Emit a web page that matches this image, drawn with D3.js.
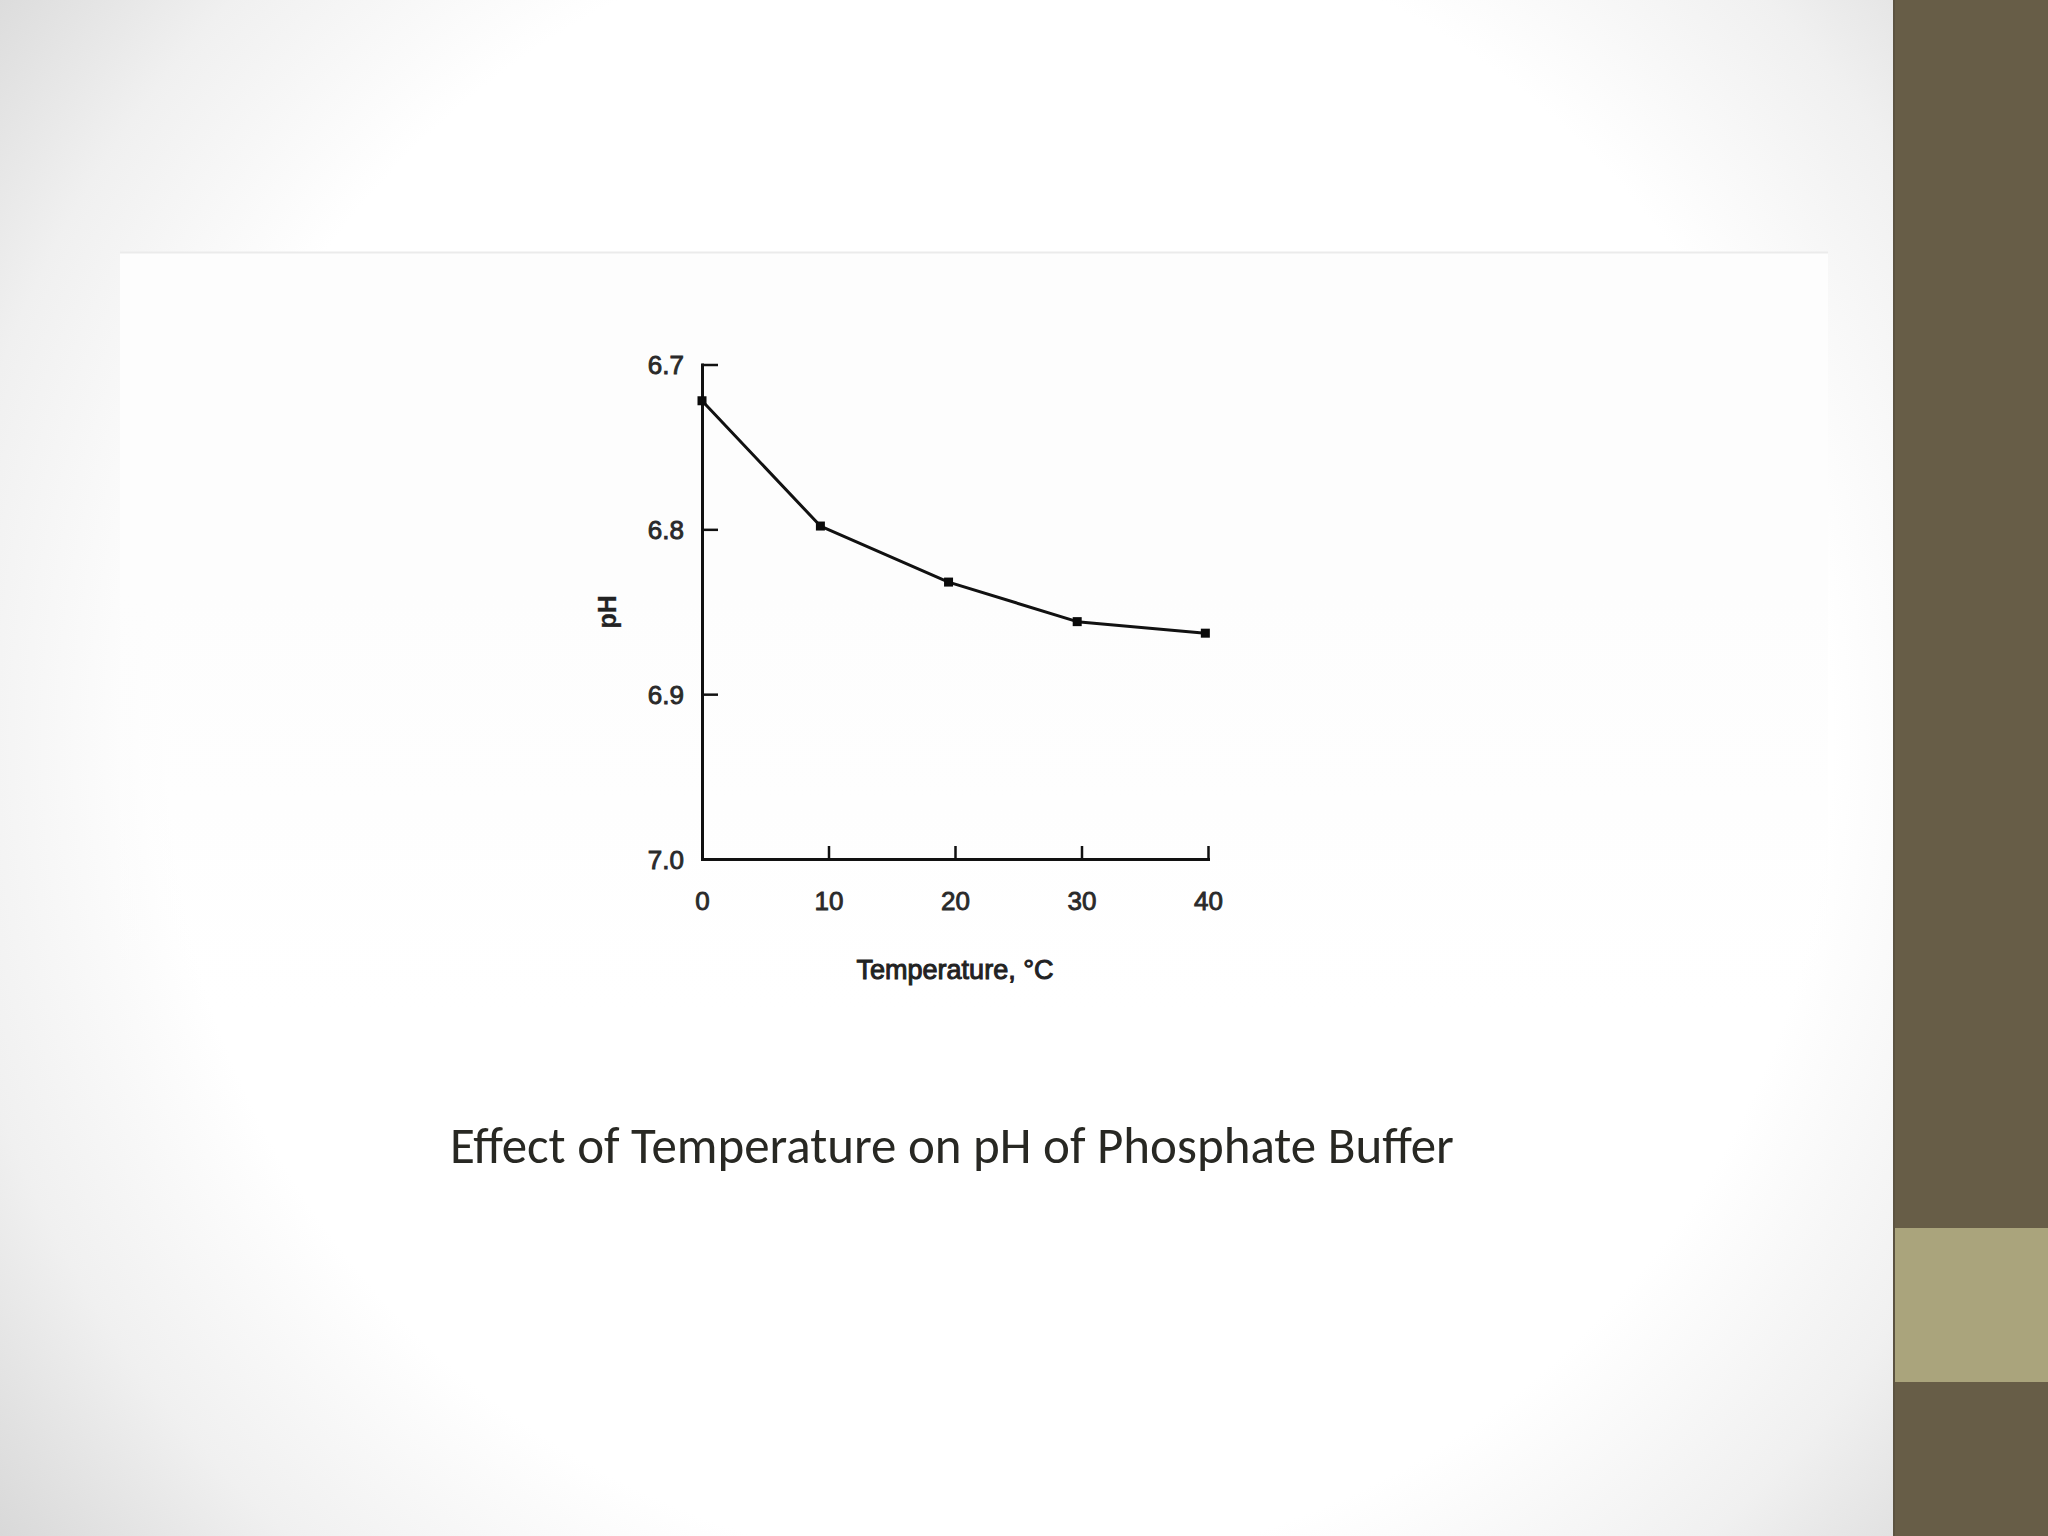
<!DOCTYPE html>
<html>
<head>
<meta charset="utf-8">
<script src="https://cdn.jsdelivr.net/npm/d3@7"></script>
<style>
  html, body { margin: 0; padding: 0; background: #ffffff; }
  svg { display: block; }
</style>
</head>
<body>
<svg id="chart" width="2048" height="1536"></svg>
<script>
// ---- data ----
const temperatures = [0, 9.36, 19.49, 29.66, 39.79];      // °C (marker positions)
const phValues     = [6.722, 6.798, 6.832, 6.856, 6.863];  // pH
const xTickValues  = [0, 10, 20, 30, 40];
const yTickValues  = [6.7, 6.8, 6.9, 7.0];
const xTitle = "Temperature, \u00B0C";
const yTitle = "pH";
const caption = "Effect of Temperature on pH of Phosphate Buffer";

const svg = d3.select("#chart");
const defs = svg.append("defs");

// slide background (radial vignette)
const rg = defs.append("radialGradient")
  .attr("id", "bg").attr("gradientUnits", "userSpaceOnUse")
  .attr("cx", 1000).attr("cy", 740).attr("r", 1300);
rg.append("stop").attr("offset", 0).attr("stop-color", "#ffffff");
rg.append("stop").attr("offset", 0.64).attr("stop-color", "#ffffff");
rg.append("stop").attr("offset", 0.82).attr("stop-color", "#f0f0f0");
rg.append("stop").attr("offset", 1).attr("stop-color", "#d6d6d6");
svg.append("rect").attr("x", 0).attr("y", 0).attr("width", 2048).attr("height", 1536)
  .attr("fill", "url(#bg)");

// right decorative band
svg.append("rect").attr("x", 1894).attr("y", 0).attr("width", 154).attr("height", 1536).attr("fill", "#675d47");
svg.append("rect").attr("x", 1894).attr("y", 1228).attr("width", 154).attr("height", 154).attr("fill", "#aaa47c");
svg.append("rect").attr("x", 1893).attr("y", 0).attr("width", 2).attr("height", 1536).attr("fill", "#5c5341");

// pasted picture frame (fades into the slide toward the bottom)
const pg = defs.append("linearGradient").attr("id", "pic").attr("x1", 0).attr("y1", 0).attr("x2", 0).attr("y2", 1);
pg.append("stop").attr("offset", 0).attr("stop-color", "#fdfdfd").attr("stop-opacity", 1);
pg.append("stop").attr("offset", 0.45).attr("stop-color", "#fdfdfd").attr("stop-opacity", 1);
pg.append("stop").attr("offset", 1).attr("stop-color", "#fdfdfd").attr("stop-opacity", 0);
svg.append("rect").attr("x", 120).attr("y", 252).attr("width", 1708).attr("height", 760)
  .attr("fill", "url(#pic)");
svg.append("line").attr("x1", 120).attr("x2", 1828).attr("y1", 252.5).attr("y2", 252.5)
  .attr("stroke", "#ebebeb").attr("stroke-width", 2);

// ---- chart ----
const x = d3.scaleLinear().domain([0, 40]).range([702, 1208]);
const y = d3.scaleLinear().domain([6.7, 7.0]).range([364.5, 859]);

const txtColor = "#1e1e1e";
const fontFam = "'Liberation Sans', Arial, Helvetica, sans-serif";

const yAxis = d3.axisLeft(y).tickValues(yTickValues).tickFormat(d3.format(".1f"))
  .tickSizeInner(-16).tickSizeOuter(0).tickPadding(18);
const gy = svg.append("g").attr("transform", `translate(${x(0)},0)`).call(yAxis);

const xAxis = d3.axisBottom(x).tickValues(xTickValues).tickFormat(d3.format("d"))
  .tickSizeInner(-13).tickSizeOuter(0).tickPadding(33);
const gx = svg.append("g").attr("transform", `translate(0,${y(7.0)})`).call(xAxis);

[gx, gy].forEach(g => {
  g.select(".domain").attr("stroke", "#111").attr("stroke-width", 3).attr("stroke-linecap", "square");
  g.selectAll(".tick line").attr("stroke", "#111").attr("stroke-width", 2.5);
  g.selectAll(".tick text").attr("fill", "#2a2a2a").attr("font-family", fontFam)
    .attr("font-size", 26).attr("stroke", "#2a2a2a").attr("stroke-width", 0.9);
});
gy.selectAll(".tick text").attr("dy", "0.36em");

// axis titles
svg.append("text").attr("x", x(20)).attr("y", 979)
  .attr("text-anchor", "middle").attr("font-family", fontFam).attr("font-size", 27)
  .attr("fill", "#222").attr("stroke", "#222").attr("stroke-width", 1)
  .attr("textLength", 197).attr("lengthAdjust", "spacingAndGlyphs")
  .text(xTitle);
svg.append("text").attr("transform", `translate(616,${(y(6.7) + y(7.0)) / 2}) rotate(-90)`)
  .attr("text-anchor", "middle").attr("font-family", fontFam).attr("font-size", 25)
  .attr("font-weight", "bold")
  .attr("fill", "#222").attr("stroke", "#222").attr("stroke-width", 0.3)
  .text(yTitle);

// data line + markers
const pts = temperatures.map((t, i) => ({ t, ph: phValues[i] }));
svg.append("path").datum(pts)
  .attr("fill", "none").attr("stroke", "#111").attr("stroke-width", 3)
  .attr("stroke-linejoin", "round")
  .attr("d", d3.line().x(d => x(d.t)).y(d => y(d.ph)));
const ms = 9;
svg.selectAll("rect.marker").data(pts).enter().append("rect")
  .attr("class", "marker")
  .attr("x", d => x(d.t) - ms / 2).attr("y", d => y(d.ph) - ms / 2)
  .attr("width", ms).attr("height", ms).attr("fill", "#0a0a0a");

// caption
const cap = svg.append("text").attr("x", 450).attr("y", 1163)
  .attr("font-family", "Carlito, Calibri, Lato, 'Open Sans', sans-serif")
  .attr("font-size", 46).attr("fill", "#282823").text(caption);
const w = cap.node().getComputedTextLength();
if (w > 0) cap.attr("font-size", 46 * 1004 / w);
</script>
</body>
</html>
